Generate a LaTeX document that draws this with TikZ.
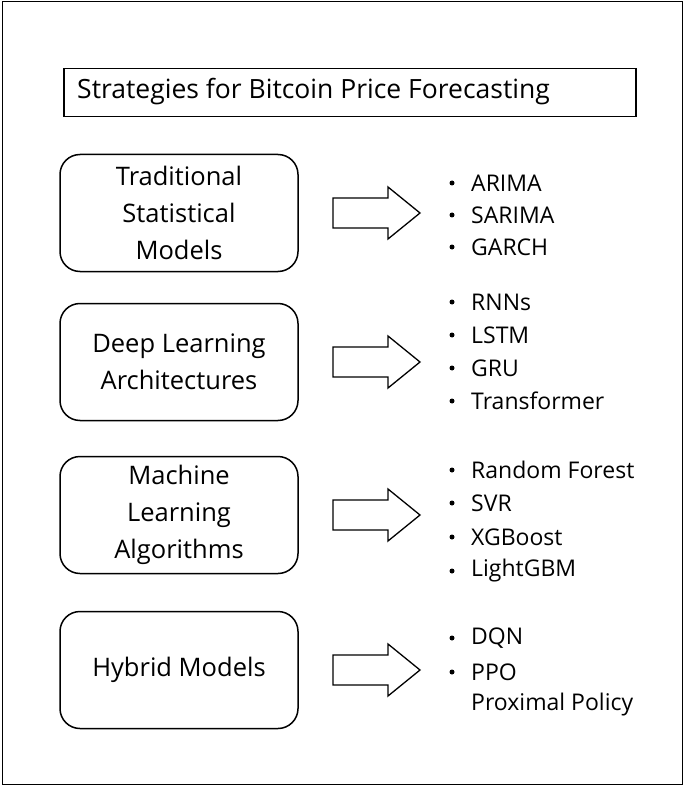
\documentclass[tikz,border=0pt]{standalone}
\usepackage{fontspec}
\setmainfont{Open Sans}
\begin{document}
\begin{tikzpicture}[x=1pt,y=-1pt,
  cat/.style={draw,line width=1.5pt,rounded corners=20pt,minimum width=238pt,minimum height=117pt,align=center,font=\fontsize{25.5}{37}\selectfont},
  item/.style={anchor=west,font=\fontsize{23}{28}\selectfont,inner sep=0pt},
  barrow/.style={draw,line width=1.3pt,fill=white}]
\useasboundingbox (0,0) rectangle (684,786);
\draw[line width=1pt] (2,2) rectangle (682,784);
\node[draw,line width=1.5pt,minimum width=572pt,minimum height=48pt,anchor=north west,inner sep=0pt] (title) at (63,68) {};
\node[anchor=west,font=\fontsize{26.5}{30}\selectfont,inner sep=0pt] (tt) at (77,92) {Strategies for Bitcoin Price Forecasting};
\node[cat] (b1) at (179,213) {Traditional\\Statistical\\Models};
\node[cat] (b2) at (179,362) {Deep Learning\\Architectures};
\node[cat] (b3) at (179,515) {Machine\\Learning\\Algorithms};
\node[cat] (b4) at (179,670) {Hybrid Models};
\foreach \n/\y in {1/213,2/362,3/515,4/670}{
  \coordinate (a\n) at (333,\y);
  \draw[barrow] (a\n) ++(0,-15) -- ++(55,0) -- ++(0,-11) -- ++(32,26) -- ++(-32,26) -- ++(0,-11) -- ++(-55,0) -- cycle;
}
\foreach \t/\y in {ARIMA/183,SARIMA/215,GARCH/247,RNNs/302,LSTM/335,GRU/368,Transformer/401,Random Forest/470,SVR/503,XGBoost/537,LightGBM/571,DQN/638,PPO/672}{
  \node[item] at (471,\y) {\t};
  \fill (452,\y) circle (2.5pt);
}
\node[item] at (471,705) {Proximal Policy};
\end{tikzpicture}
\end{document}
